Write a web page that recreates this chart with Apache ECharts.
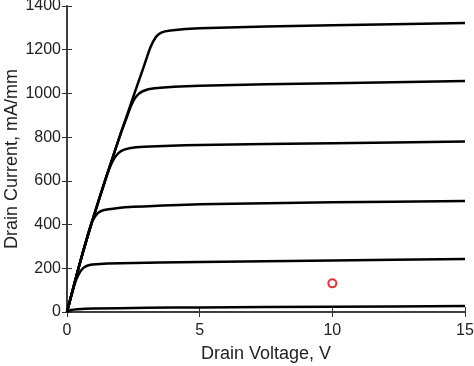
<!DOCTYPE html>
<html><head><meta charset="utf-8">
<script src="https://cdn.jsdelivr.net/npm/echarts@6/dist/echarts.min.js"></script>
<style>html,body{margin:0;padding:0;background:#fff}#c{width:474px;height:366px}</style>
</head><body><div id="c"></div>
<script>
var xTicks = [0, 5, 10, 15];
var yTicks = [0, 200, 400, 600, 800, 1000, 1200, 1400];
var curve1 = [[0,0],[0.15,9],[0.4,13],[1,16],[3,19],[5,21],[10,24],[15,27]];
var curve2 = [[0,0],[0.2,92],[0.35,148],[0.5,185],[0.65,205],[0.85,215],[1.1,219],[2,223],[5,229],[10,236],[15,242]];
var curve3 = [[0,0],[0.5,230],[0.9,400],[1.05,435],[1.2,456],[1.4,467],[1.8,474],[2.5,481],[5,493],[10,502],[15,508]];
var curve4 = [[0,0],[0.5,230],[1,435],[1.5,625],[1.7,685],[1.85,715],[2.05,737],[2.35,749],[2.9,756],[5,764],[10,772],[15,780]];
var curve5 = [[0,0],[0.5,230],[1,435],[1.5,625],[2,808],[2.25,890],[2.42,945],[2.6,985],[2.85,1010],[3.3,1024],[5,1035],[10,1047],[15,1057]];
var curve6 = [[0,0],[0.5,230],[1,435],[1.5,625],[2,808],[2.5,985],[2.9,1125],[3.15,1212],[3.35,1258],[3.55,1278],[3.9,1288],[5,1298],[10,1312],[15,1322]];
var marker = [[10, 131]];

var chart = echarts.init(document.getElementById('c'));
function curve(d){return {type:'line',data:d,showSymbol:false,symbol:'none',smooth:0.25,lineStyle:{color:'#000',width:2.5},z:3};}
var fontFam = 'Liberation Sans, Arial, sans-serif';
function plain(v){return String(v);}
chart.setOption({
  animation:false,
  grid:{left:67,right:9,top:6,bottom:54,containLabel:false,outerBoundsMode:'none'},
  xAxis:[{type:'value',min:0,max:15,interval:5,
    name:'Drain Voltage, V',nameLocation:'middle',nameGap:33,nameMoveOverlap:false,
    nameTextStyle:{color:'#222',fontSize:18,fontFamily:fontFam},
    axisLine:{lineStyle:{color:'#333',width:1.5}},
    axisTick:{inside:true,length:5,lineStyle:{color:'#333'}},
    axisLabel:{color:'#222',fontSize:16,fontFamily:fontFam,margin:11,formatter:plain},
    splitLine:{show:false}},
    {type:'value',position:'top',min:0,max:15,interval:5,
    axisLine:{lineStyle:{color:'#333',width:1.5}},
    axisTick:{inside:true,length:5,lineStyle:{color:'#333'}},
    axisLabel:{show:false},splitLine:{show:false}}],
  yAxis:[{type:'value',min:0,max:1400,interval:200,
    name:'Drain Current, mA/mm',nameLocation:'middle',nameGap:46,nameMoveOverlap:false,
    nameTextStyle:{color:'#222',fontSize:18,fontFamily:fontFam},
    axisLine:{show:true,lineStyle:{color:'#333',width:1.5}},
    axisTick:{show:true,inside:true,length:5,lineStyle:{color:'#333'}},
    axisLabel:{color:'#222',fontSize:16,fontFamily:fontFam,margin:6,formatter:plain},
    splitLine:{show:false}},
    {type:'value',position:'right',min:0,max:1400,interval:200,
    axisLine:{show:true,lineStyle:{color:'#333',width:1.5}},
    axisTick:{show:true,inside:true,length:5,lineStyle:{color:'#333'}},
    axisLabel:{show:false},splitLine:{show:false}}],
  series:[curve(curve1),curve(curve2),curve(curve3),curve(curve4),curve(curve5),curve(curve6),
    {type:'scatter',data:marker,symbol:'circle',symbolSize:8,
     itemStyle:{color:'#fff',borderColor:'#e00000',borderWidth:2},z:4}]
});
</script></body></html>
